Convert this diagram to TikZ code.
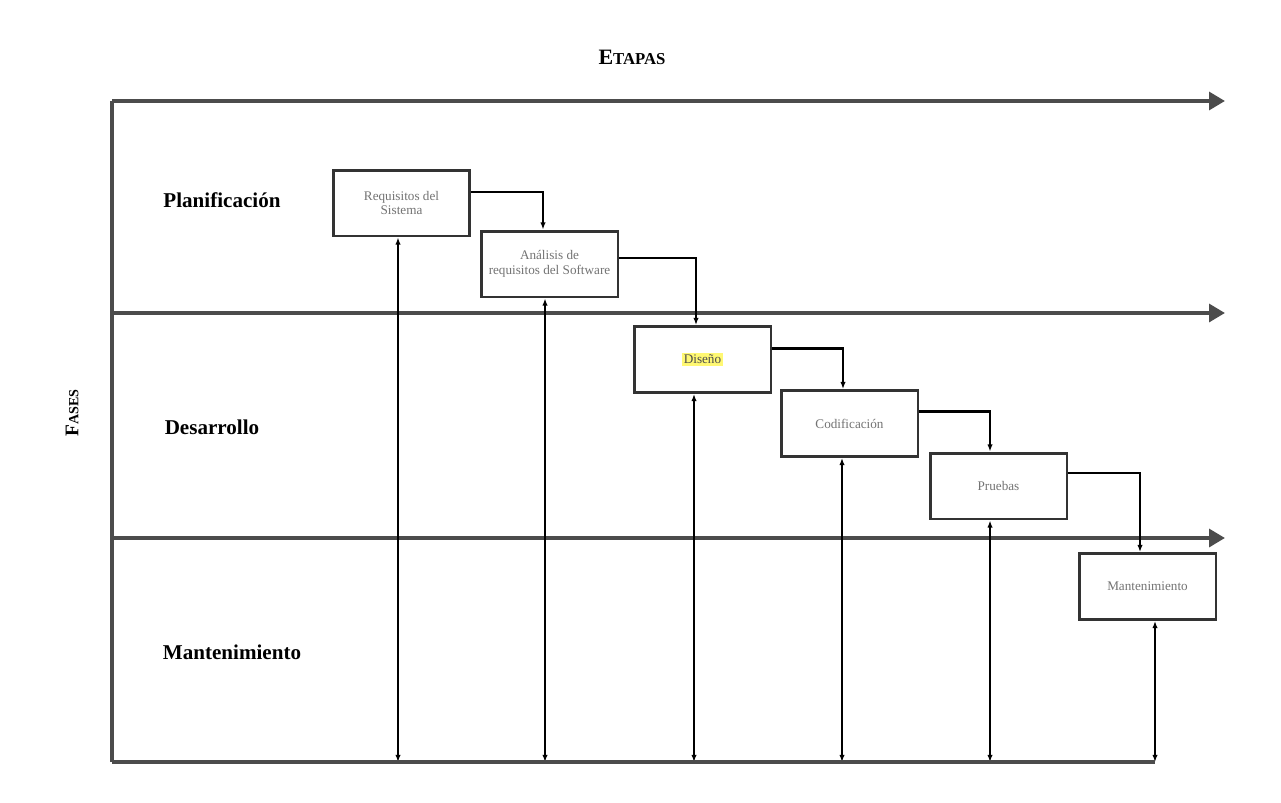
\documentclass[tikz,border=0pt]{standalone}
\usepackage{fontspec}
\setmainfont{Liberation Serif}
\usetikzlibrary{arrows.meta,positioning}

\begin{document}
\begin{tikzpicture}[
    x=0.02cm, y=-0.02cm,
    font=\fontsize{7.5}{8.5}\selectfont,
    etapa/.style={draw=black!80, line width=1.7pt, fill=white, minimum width=2.74cm, minimum height=1.32cm, align=center, text=black!55, inner sep=1pt},
    fase/.style={font=\bfseries\fontsize{12}{14}\selectfont},
    eje/.style={line width=2.2pt, black!70},
    flecha/.style={eje, -{Triangle[length=9pt,width=10pt]}},
    enlace/.style={line width=1.3pt, -{Latex[length=4pt,width=3pt]}},
    caida/.style={line width=1.3pt, {Latex[length=4pt,width=3pt]}-{Latex[length=4pt,width=3pt]}}
]
    \useasboundingbox (0,0) rectangle (1281,802);

    % Ejes
    \coordinate (o) at (112,101);
    \coordinate (ox) at (1225,101);
    \coordinate (p1) at (112,313);
    \coordinate (p1x) at (1225,313);
    \coordinate (p2) at (112,538);
    \coordinate (p2x) at (1225,538);
    \coordinate (oy) at (112,762);

    \node[font=\bfseries\fontsize{12.5}{13}\selectfont] (etapas) at (632,57) {E{\fontsize{9.5}{10}\selectfont TAPAS}};
    \node[font=\bfseries\fontsize{11}{12}\selectfont, rotate=90] (fases) at (72,413) {F{\fontsize{8}{9}\selectfont ASES}};

    \draw[flecha] (o) -- (ox);
    \draw[flecha] (p1) -- (p1x);
    \draw[flecha] (p2) -- (p2x);
    \draw[eje] (o) -- (oy);

    % Fases
    \node[fase] (plan) at (222,200) {Planificación};
    \node[fase] (desa) at (212,427) {Desarrollo};
    \node[fase] (mant) at (232,652) {Mantenimiento};

    % Etapas
    \node[etapa] (req) at (401.5,203) {Requisitos del\\Sistema};
    \node[etapa] (ana) at (549.5,264) {Análisis de\\requisitos del Software};
    \node[etapa] (dis) at (702.5,359.5) {\setlength{\fboxsep}{1pt}\colorbox{yellow!55}{\textcolor{black!70}{Diseño}}};
    \node[etapa] (cod) at (849.5,423.5) {Codificación};
    \node[etapa] (pru) at (998.5,486) {Pruebas};
    \node[etapa] (man) at (1147.5,586.5) {Mantenimiento};

    \draw[enlace] ([yshift=0.22cm]req.east) -| ([xshift=-0.13cm]ana.north);
    \draw[enlace] ([yshift=0.12cm]ana.east) -| ([xshift=-0.13cm]dis.north);
    \draw[enlace] ([yshift=0.22cm]dis.east) -| ([xshift=-0.13cm]cod.north);
    \draw[enlace] ([yshift=0.24cm]cod.east) -| ([xshift=-0.17cm]pru.north);
    \draw[enlace] ([yshift=0.26cm]pru.east) -| ([xshift=-0.15cm]man.north);

    % Lineas hasta el eje inferior
    \coordinate (b1) at ([xshift=-0.07cm]req.south |- oy);
    \coordinate (b2) at ([xshift=-0.09cm]ana.south |- oy);
    \coordinate (b3) at ([xshift=-0.17cm]dis.south |- oy);
    \coordinate (b4) at ([xshift=-0.15cm]cod.south |- oy);
    \coordinate (b5) at ([xshift=-0.17cm]pru.south |- oy);
    \coordinate (b6) at ([xshift=0.15cm]man.south |- oy);

    \draw[caida] ([xshift=-0.07cm]req.south) -- (b1);
    \draw[caida] ([xshift=-0.09cm]ana.south) -- (b2);
    \draw[caida] ([xshift=-0.17cm]dis.south) -- (b3);
    \draw[caida] ([xshift=-0.15cm]cod.south) -- (b4);
    \draw[caida] ([xshift=-0.17cm]pru.south) -- (b5);
    \draw[caida] ([xshift=0.15cm]man.south) -- (b6);

    \draw[eje] (oy) -- (b6);
\end{tikzpicture}
\end{document}
